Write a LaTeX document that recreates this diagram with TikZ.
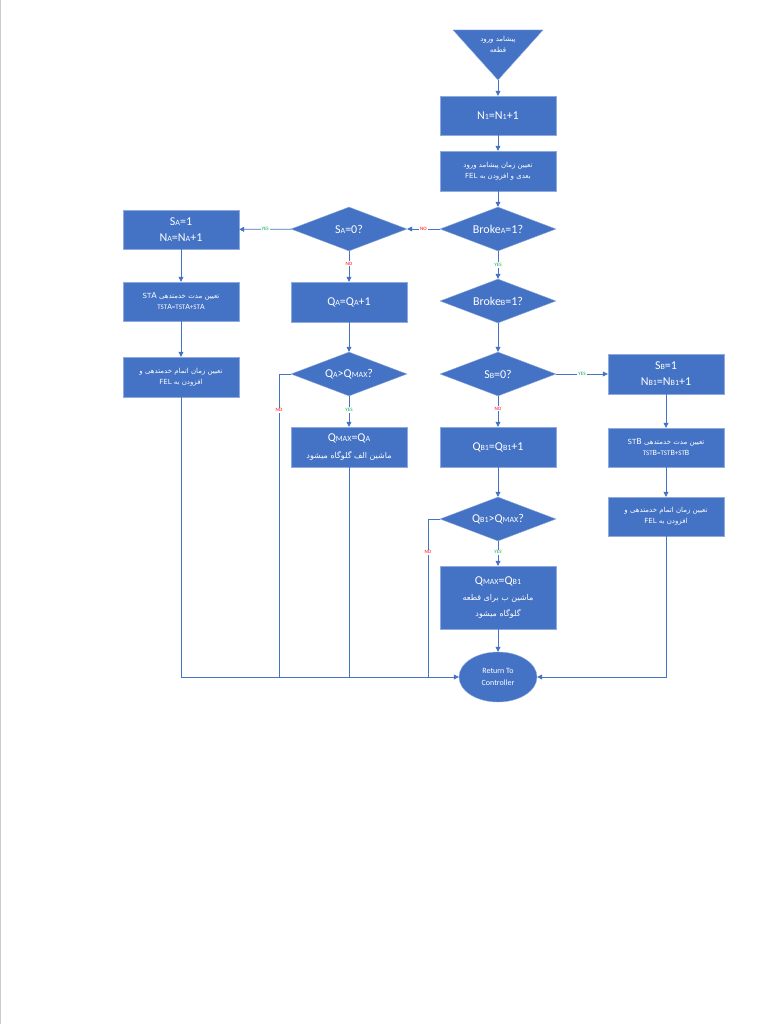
\documentclass[tikz,border=0pt]{standalone}
\usepackage{fontspec}
\setmainfont{Carlito}
\newfontfamily\fa[Script=Arabic]{DejaVu Sans}
\TeXXeTstate=1
\usetikzlibrary{shapes.geometric,arrows.meta}
\definecolor{bl}{HTML}{4472C4}
\definecolor{bd}{HTML}{8FAADC}
\definecolor{yg}{HTML}{00B050}
\newcommand{\sm}[1]{{\fontsize{8}{8}\selectfont #1}}
\newcommand{\rl}[1]{{\fa\beginR #1\endR}}
\begin{document}
\begin{tikzpicture}[x=1pt,y=-1pt,
  box/.style={draw=bd,fill=bl,text=white,minimum width=116pt,align=center,inner sep=1pt,font=\fontsize{12}{15}\selectfont},
  dia/.style={diamond,draw=bd,fill=bl,text=white,aspect=2.64,minimum width=116pt,minimum height=44pt,inner sep=0pt,font=\fontsize{12}{15}\selectfont},
  fb/.style={font=\fontsize{7}{11}\selectfont},
  ln/.style={draw=bl,line width=0.7pt},
  ar/.style={ln,-{Triangle[length=5pt,width=5pt]}},
  yes/.style={fill=white,text=yg,font=\fontsize{5}{5}\selectfont,inner sep=1pt},
  no/.style={fill=white,text=red,font=\fontsize{5}{5}\selectfont,inner sep=1pt}]
\useasboundingbox (0,0) rectangle (768,1024);
\draw[gray!40] (0.5,0) -- (0.5,1024);
\fill[bl,draw=bd] (453,30) -- (543,30) -- (498,80) -- cycle;
\node[text=white,fb,align=center] (tri) at (498,44) {\rl{پیشامد ورود}\\\rl{قطعه}};
\coordinate (apex) at (498,80);
\node[box,minimum height=39pt] (n1) at (498,115.5) {N\sm{1}=N\sm{1}+1};
\node[box,minimum height=40pt,fb] (fel) at (498,171) {\rl{تعیین زمان پیشامد ورود}\\\rl{بعدی و افزودن به \beginL FEL\endL}};
\node[dia] (ba) at (498,229) {Broke\sm{A}=1?};
\node[dia] (sa0) at (349,229) {S\sm{A}=0?};
\node[box,minimum height=39pt,font=\fontsize{12}{16}\selectfont] (sa1) at (181,229.5) {S\sm{A}=1\\N\sm{A}=N\sm{A}+1};
\node[box,minimum height=39pt,fb] (sta) at (181,301.5) {\rl{تعیین مدت خدمتدهی \beginL ST\sm{A}\endL}\\TST\sm{A}=TST\sm{A}+ST\sm{A}};
\node[box,minimum height=40pt,fb] (fela) at (181,377) {\rl{تعیین زمان اتمام خدمتدهی و}\\\rl{افزودن به \beginL FEL\endL}};
\node[box,minimum height=40pt] (qa) at (349,302) {Q\sm{A}=Q\sm{A}+1};
\node[dia] (qam) at (349,374) {Q\sm{A}>Q\sm{MAX}?};
\node[box,minimum height=40pt,font=\fontsize{12}{17}\selectfont] (qmaxa) at (349,447) {Q\sm{MAX}=Q\sm{A}\\{\fa\fontsize{8}{8}\selectfont\beginR ماشین الف گلوگاه میشود\endR}};
\node[dia] (bb) at (498,301) {Broke\sm{B}=1?};
\node[dia] (sb0) at (498,374) {S\sm{B}=0?};
\node[box,minimum height=40pt,font=\fontsize{12}{16}\selectfont] (sb1) at (666,374) {S\sm{B}=1\\N\sm{B1}=N\sm{B1}+1};
\node[box,minimum height=39pt,fb] (stb) at (666,447.5) {\rl{تعیین مدت خدمتدهی \beginL ST\sm{B}\endL}\\TST\sm{B}=TST\sm{B}+ST\sm{B}};
\node[box,minimum height=39pt,fb] (felb) at (666,516.5) {\rl{تعیین زمان اتمام خدمتدهی و}\\\rl{افزودن به \beginL FEL\endL}};
\node[box,minimum height=40pt] (qb) at (498,447) {Q\sm{B1}=Q\sm{B1}+1};
\node[dia] (qbm) at (498,519) {Q\sm{B1}>Q\sm{MAX}?};
\node[box,minimum height=63pt,font=\fontsize{12}{16}\selectfont] (qmaxb) at (498,597.5) {Q\sm{MAX}=Q\sm{B1}\\{\fa\fontsize{8}{16}\selectfont\beginR ماشین ب برای قطعه\endR}\\{\fa\fontsize{8}{14}\selectfont\beginR گلوگاه میشود\endR}};
\node[ellipse,draw=bd,fill=bl,text=white,minimum width=78pt,minimum height=50pt,align=center,inner sep=0pt,font=\fontsize{8}{12}\selectfont] (ret) at (498,677) {Return To\\Controller};
% arrows
\draw[ar] (apex) -- (n1);
\draw[ar] (n1) -- (fel);
\draw[ar] (fel) -- (ba);
\draw[ar] (ba) -- node[no]{NO} (sa0);
\draw[ar] (sa0) -- node[yes]{YES} (sa1);
\draw[ar] (sa1) -- (sta);
\draw[ar] (sta) -- (fela);
\draw[ar] (sa0) -- node[no,pos=0.4]{NO} (qa);
\draw[ar] (qa) -- (qam);
\draw[ar] (qam) -- node[yes,pos=0.45]{YES} (qmaxa);
\draw[ar] (ba) -- node[yes]{YES} (bb);
\draw[ar] (bb) -- (sb0);
\draw[ar] (sb0) -- node[yes]{YES} (sb1);
\draw[ar] (sb1) -- (stb);
\draw[ar] (stb) -- (felb);
\draw[ar] (sb0) -- node[no,pos=0.4]{NO} (qb);
\draw[ar] (qb) -- (qbm);
\draw[ar] (qbm) -- node[yes,pos=0.45]{YES} (qmaxb);
\draw[ar] (qmaxb) -- (ret);
\draw[ar] (fela.south) -- (181,677) -- (ret.west);
\draw[ln] (qam.west) -- (279,374) -- node[no,pos=0.12]{NO} (279,677);
\draw[ln] (qmaxa.south) -- (349,677);
\draw[ln] (qbm.west) -- (428,519) -- node[no,pos=0.21]{NO} (428,677);
\draw[ar] (felb.south) -- (666,677) -- (ret.east);
\end{tikzpicture}
\end{document}
